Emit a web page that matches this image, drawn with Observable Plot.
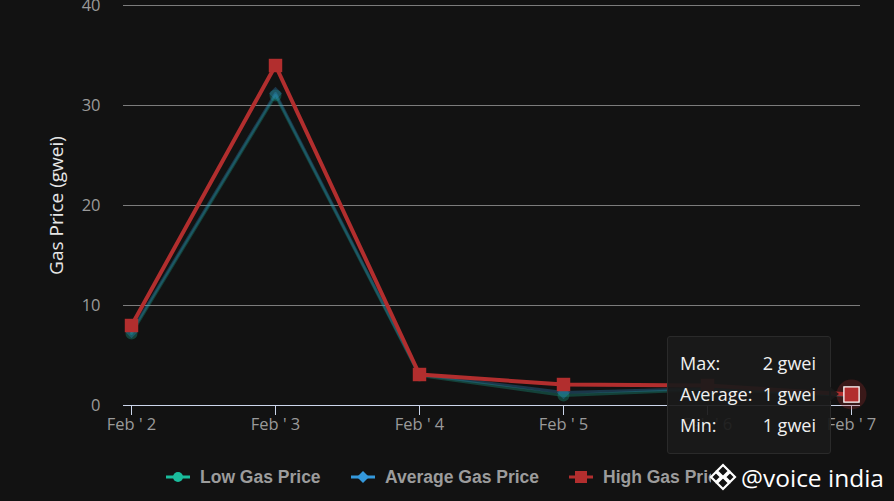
<!DOCTYPE html>
<html><head><meta charset="utf-8">
<script src="https://cdn.jsdelivr.net/npm/d3@7"></script>
<script src="https://cdn.jsdelivr.net/npm/@observablehq/plot@0.6"></script>
<style>
html,body{margin:0;padding:0;background:#121212;width:894px;height:501px;overflow:hidden;}
#wrap{position:relative;width:894px;height:501px;background:#121212;}
#chart svg{display:block;}
.leg{position:absolute;top:464px;height:26px;display:flex;align-items:center;font-family:"Liberation Sans Narrow","Liberation Sans",sans-serif;font-weight:bold;font-size:17.5px;color:#9c9c9c;white-space:nowrap;}
.leg svg{margin-right:8px;}
#tip{position:absolute;left:667px;top:336px;width:162px;height:116px;background:rgba(26,26,26,0.93);border:1px solid #2a2a2a;border-radius:3px;font-family:"Open Sans",sans-serif;font-size:18px;color:#f0f0f0;}
#tip .row{position:absolute;left:12px;right:14px;height:26px;line-height:26px;}
#tip .row .v{position:absolute;right:0;top:0;}
#arrow{position:absolute;left:829px;top:386px;width:0;height:0;border-top:8px solid transparent;border-bottom:8px solid transparent;border-left:10px solid rgba(26,26,26,0.93);}
#wm{position:absolute;left:708px;top:461px;height:32px;display:flex;align-items:center;font-family:"Open Sans",sans-serif;font-size:24.5px;color:#ffffff;}
</style></head><body>
<div id="wrap">
<div id="chart"></div>
<div class="leg" style="left:166px"><svg width="26" height="14"><line x1="0" y1="7" x2="24" y2="7" stroke="#1abc9c" stroke-width="3"/><circle cx="12" cy="7" r="5" fill="#1abc9c"/></svg><span id="l0"></span></div>
<div class="leg" style="left:351px"><svg width="26" height="14"><line x1="0" y1="7" x2="24" y2="7" stroke="#3498db" stroke-width="3"/><path d="M12 1 L18 7 L12 13 L6 7 Z" fill="#3498db"/></svg><span id="l1"></span></div>
<div class="leg" style="left:569px"><svg width="26" height="14"><line x1="0" y1="7" x2="24" y2="7" stroke="#b22e2e" stroke-width="3"/><rect x="6" y="1" width="12" height="12" fill="#b22e2e"/></svg><span id="l2"></span></div>
<div id="tip">
  <div class="row" style="top:13px"><span id="t0"></span><span class="v" id="v0"></span></div>
  <div class="row" style="top:44px"><span id="t1"></span><span class="v" id="v1"></span></div>
  <div class="row" style="top:75px"><span id="t2"></span><span class="v" id="v2"></span></div>
</div>
<div id="arrow"></div>
<div id="wm"><svg width="30" height="30" viewBox="0 0 30 30" style="margin-right:3px"><rect x="3" y="3" width="24" height="24" fill="#121212" stroke="none"/><g fill="none" stroke="#ffffff" stroke-width="2.2"><path d="M15 3 L21 9 L15 15 L9 9 Z"/><path d="M15 15 L21 21 L15 27 L9 21 Z"/><path d="M3 15 L8 10 L13 15 L8 20 Z"/><path d="M17 15 L22 10 L27 15 L22 20 Z"/></g></svg><span>@voice india</span></div>
</div>
<script>
const categories = ["Feb ' 2", "Feb ' 3", "Feb ' 4", "Feb ' 5", "Feb ' 6", "Feb ' 7"];
const lowGas  = [7.2, 31.0, 3.0, 1.0, 1.6, 1.0];
const avgGas  = [7.4, 31.2, 3.1, 1.3, 1.7, 1.0];
const highGas = [8.0, 34.0, 3.1, 2.1, 2.0, 1.1];
const yTicks = [0, 10, 20, 30, 40];
const seriesNames = ["Low Gas Price", "Average Gas Price", "High Gas Price"];
const yTitle = "Gas Price (gwei)";
const tipLabels = ["Max:", "Average:", "Min:"];
const tipValues = ["2 gwei", "1 gwei", "1 gwei"];
const hoverIndex = 5;

const rows = categories.map((c, i) => ({cat: c, low: lowGas[i], avg: avgGas[i], high: highGas[i]}));
const hover = [rows[hoverIndex]];

const chart = Plot.plot({
  width: 894,
  height: 450,
  marginLeft: 129,
  marginRight: 41,
  marginTop: 5,
  marginBottom: 45,
  style: {background: "#121212", color: "#999", fontFamily: "'Open Sans', sans-serif", fontSize: "16px", overflow: "visible"},
  x: {type: "point", domain: categories, padding: 0},
  y: {domain: [0, 40], ticks: yTicks},
  marks: [
    Plot.ruleY(yTicks.filter(d => d > 0), {stroke: "#7c7c7c", strokeWidth: 1, insetLeft: -6, insetRight: -7}),
    Plot.ruleY([0], {stroke: "#ccd6eb", strokeWidth: 1.2, insetLeft: -6, insetRight: -7}),
    Plot.axisX({tickSize: 10, stroke: "#ccd6eb", tickPadding: 3, fill: "#9a9a9a", fontSize: 16.5, label: null}),
    Plot.axisY({ticks: yTicks, tickSize: 0, tickPadding: 29, fill: "#9a9a9a", fontSize: 16.5, label: null}),
    Plot.text([yTitle], {frameAnchor: "left", textAnchor: "middle", dx: -73, rotate: -90, fill: "#e6e6e6", fontSize: 19}),
    Plot.line(rows, {x: "cat", y: "low", stroke: "#1abc9c", strokeOpacity: 0.28, strokeWidth: 3}),
    Plot.dot(rows, {x: "cat", y: "low", r: 6, fill: "#1abc9c", fillOpacity: 0.28}),
    Plot.line(rows, {x: "cat", y: "avg", stroke: "#3498db", strokeOpacity: 0.28, strokeWidth: 3}),
    Plot.dot(rows, {x: "cat", y: "avg", r: 6, symbol: "diamond2", fill: "#3498db", fillOpacity: 0.28}),
    Plot.line(rows, {x: "cat", y: "high", stroke: "#b22e2e", strokeWidth: 4}),
    Plot.dot(rows, {x: "cat", y: "high", r: 7.6, symbol: "square", fill: "#b22e2e"}),
    Plot.dot(hover, {x: "cat", y: "high", r: 15, fill: "#b22e2e", fillOpacity: 0.25}),
    Plot.dot(hover, {x: "cat", y: "high", r: 8.6, symbol: "square", fill: "#b22e2e", stroke: "#ffffff", strokeWidth: 1.3})
  ]
});
document.getElementById("chart").appendChild(chart);
seriesNames.forEach((n, i) => document.getElementById("l" + i).textContent = n);
tipLabels.forEach((n, i) => {
  document.getElementById("t" + i).textContent = n;
  document.getElementById("v" + i).textContent = tipValues[i];
});
</script>
</body></html>
